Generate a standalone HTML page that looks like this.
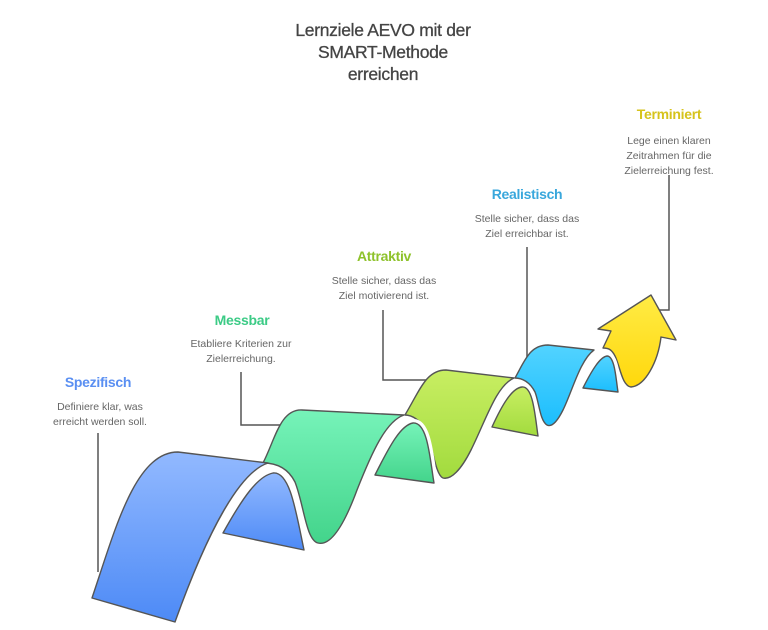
<!DOCTYPE html>
<html><head><meta charset="utf-8"><style>
html,body{margin:0;padding:0;background:#fff}
body{width:768px;height:630px;position:relative;overflow:hidden;font-family:"Liberation Sans",sans-serif}
.t{position:absolute;text-align:center;transform:translateX(-50%);white-space:nowrap}
.title{font-size:17.5px;color:#444;line-height:22px;top:19px;left:383px;letter-spacing:-0.3px;-webkit-text-stroke:0.3px #444}
.h{font-weight:bold;font-size:14px;letter-spacing:-0.3px}
.d{font-size:10.5px;color:#666;line-height:15px}
</style></head><body>
<svg width="768" height="630" style="position:absolute;left:0;top:0">
<defs>
<linearGradient id="gb" x1="0" y1="0" x2="0" y2="1"><stop offset="0" stop-color="#92b9ff"/><stop offset="1" stop-color="#4d8af6"/></linearGradient>
<linearGradient id="gg" x1="0" y1="0" x2="0" y2="1"><stop offset="0" stop-color="#76f3b9"/><stop offset="1" stop-color="#43d48b"/></linearGradient>
<linearGradient id="gl" x1="0" y1="0" x2="0" y2="1"><stop offset="0" stop-color="#c8ee62"/><stop offset="1" stop-color="#a2db3e"/></linearGradient>
<linearGradient id="gc" x1="0" y1="0" x2="0" y2="1"><stop offset="0" stop-color="#52d3ff"/><stop offset="1" stop-color="#1cbefd"/></linearGradient>
<linearGradient id="gy" x1="0" y1="0" x2="0" y2="1"><stop offset="0" stop-color="#ffeb45"/><stop offset="1" stop-color="#ffd80c"/></linearGradient>
</defs>
<g fill="none" stroke="#555" stroke-width="1.5">
<path d="M98,433 V572"/>
<path d="M241,372 V425 H285"/>
<path d="M383,310 V380 H430"/>
<path d="M527,247 V358"/>
<path d="M669,175 V310 H658"/>
</g>
<g stroke="#555" stroke-width="1.4" stroke-linejoin="round">
<path fill="url(#gy)" d="M651,295 L676,340 L661,337 C658,362 645,386 631,387 C622,386 620,366 615,356 C612,350 609,348 603,348 L611,331 L598,329 Z"/>
<path fill="url(#gc)" d="M515,378 C525,360 530,345 548,345 L594,350 C580,360 572,392 563,410 C556,424 551,427 547,425 C540,421 539,402 535,392 C530,382 522,378 515,378 Z"/>
<path fill="url(#gc)" stroke="#fff" stroke-width="8" d="M583,388 C592,370 600,357 607,356 C615,356 616,380 618,392"/>
<path fill="url(#gc)" d="M583,388 C592,370 600,357 607,356 C615,356 616,380 618,392 Z"/>
<path fill="url(#gl)" d="M405,415 C420,390 426,370 446,370 L514,378 C496,386 486,420 471,450 C461,470 451,480 443,478 C435,475 432,442 426,430 C420,420 412,415 405,415 Z"/>
<path fill="url(#gl)" stroke="#fff" stroke-width="8" d="M492,427 C502,405 512,388 522,387 C533,386 535,415 538,436"/>
<path fill="url(#gl)" d="M492,427 C502,405 512,388 522,387 C533,386 535,415 538,436 Z"/>
<path fill="url(#gg)" d="M263,463 C275,440 280,409 302,410 L404,415 C386,421 372,452 357,490 C343,528 330,546 318,543 C306,540 304,505 295,482 C288,468 276,463 263,463 Z"/>
<path fill="url(#gg)" stroke="#fff" stroke-width="8" d="M375,475 C390,445 401,425 413,423 C428,422 430,460 434,483"/>
<path fill="url(#gg)" d="M375,475 C390,445 401,425 413,423 C428,422 430,460 434,483 Z"/>
<path fill="url(#gb)" d="M92,598 C115,530 135,452 178,452 L268,463 C240,472 208,530 175,622 Z"/>
<path fill="url(#gb)" stroke="#fff" stroke-width="8" d="M223,533 C243,497 258,476 273,473 C290,471 296,512 304,550"/>
<path fill="url(#gb)" d="M223,533 C243,497 258,476 273,473 C290,471 296,512 304,550 Z"/>
</g>
</svg>
<div class="t title">Lernziele AEVO mit der<br>SMART-Methode<br>erreichen</div>
<div class="t h" style="left:98px;top:374px;color:#5a8ff2">Spezifisch</div>
<div class="t d" style="left:100px;top:400px">Definiere klar, was<br>erreicht werden soll.</div>
<div class="t h" style="left:242px;top:312px;color:#3ccb86">Messbar</div>
<div class="t d" style="left:241px;top:337px">Etabliere Kriterien zur<br>Zielerreichung.</div>
<div class="t h" style="left:384px;top:248px;color:#8ec22b">Attraktiv</div>
<div class="t d" style="left:384px;top:274px">Stelle sicher, dass das<br>Ziel motivierend ist.</div>
<div class="t h" style="left:527px;top:186px;color:#39a7dc">Realistisch</div>
<div class="t d" style="left:527px;top:212px">Stelle sicher, dass das<br>Ziel erreichbar ist.</div>
<div class="t h" style="left:669px;top:106px;color:#d6c31c">Terminiert</div>
<div class="t d" style="left:669px;top:134px">Lege einen klaren<br>Zeitrahmen für die<br>Zielerreichung fest.</div>
</body></html>
